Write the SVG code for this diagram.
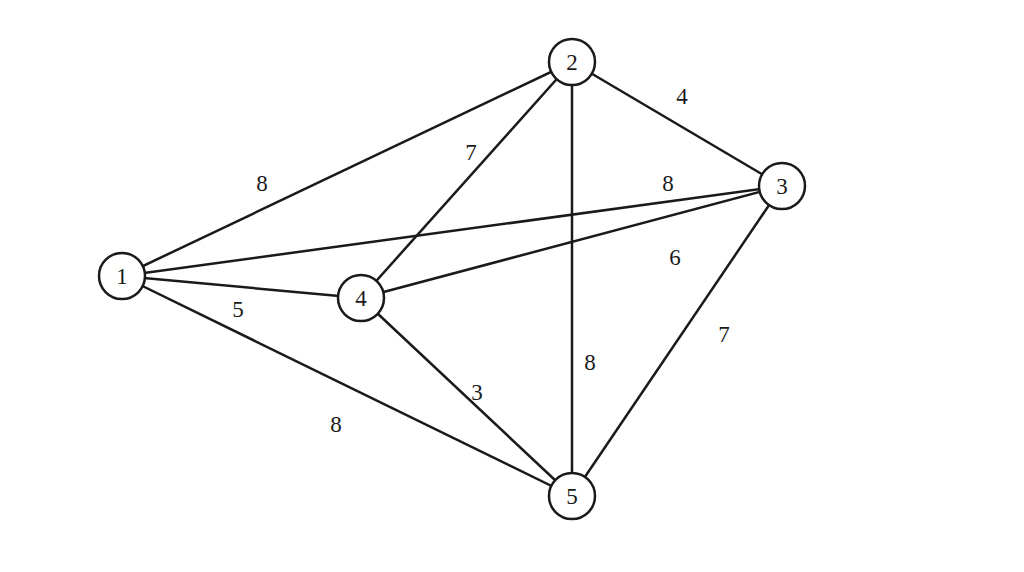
<svg xmlns="http://www.w3.org/2000/svg" width="1024" height="572" viewBox="0 0 1024 572">
<style>
.n circle{fill:#fff;stroke:#1a1a1a;stroke-width:2.5}
.n text,.l{font-family:"Liberation Serif",serif;font-size:23px;fill:#1a1a1a;text-anchor:middle;dominant-baseline:central}
#edges line{stroke:#1a1a1a;stroke-width:2.5}
</style>
<rect width="1024" height="572" fill="#fff"/>
<g id="edges">
<line x1="122" y1="276" x2="572" y2="62"/>
<line x1="122" y1="276" x2="782" y2="186"/>
<line x1="122" y1="276" x2="361" y2="298"/>
<line x1="122" y1="276" x2="572" y2="496"/>
<line x1="572" y1="62" x2="361" y2="298"/>
<line x1="572" y1="62" x2="782" y2="186"/>
<line x1="572" y1="62" x2="572" y2="496"/>
<line x1="361" y1="298" x2="782" y2="186"/>
<line x1="361" y1="298" x2="572" y2="496"/>
<line x1="782" y1="186" x2="572" y2="496"/>
</g>
<g id="labels">
<text class="l" x="262" y="183">8</text>
<text class="l" x="668" y="183">8</text>
<text class="l" x="238" y="309">5</text>
<text class="l" x="336" y="424">8</text>
<text class="l" x="471" y="152">7</text>
<text class="l" x="682" y="96">4</text>
<text class="l" x="590" y="362">8</text>
<text class="l" x="675" y="257">6</text>
<text class="l" x="477" y="392">3</text>
<text class="l" x="724" y="334">7</text>
</g>
<g id="node1" class="n"><circle cx="122" cy="276" r="23"/><text x="122" y="276">1</text></g>
<g id="node2" class="n"><circle cx="572" cy="62" r="23"/><text x="572" y="62">2</text></g>
<g id="node3" class="n"><circle cx="782" cy="186" r="23"/><text x="782" y="186">3</text></g>
<g id="node4" class="n"><circle cx="361" cy="298" r="23"/><text x="361" y="298">4</text></g>
<g id="node5" class="n"><circle cx="572" cy="496" r="23"/><text x="572" y="496">5</text></g>
</svg>
